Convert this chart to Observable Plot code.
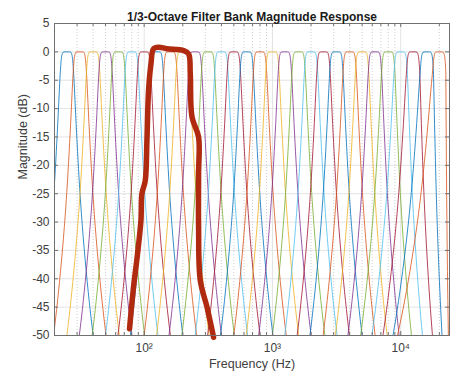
<!DOCTYPE html>
<html><head><meta charset="utf-8">
<script src="https://cdn.jsdelivr.net/npm/d3@7"></script>
<script src="https://cdn.jsdelivr.net/npm/@observablehq/plot@0.6"></script>
<style>body{margin:0;background:#fff;}</style>
</head><body><div id="chart"></div>
<script>
// 1/3-octave band centre frequencies (Hz)
const bandCenters = [25,31.5,40,50,63,80,100,125,160,200,250,315,400,500,630,800,1000,1250,1600,2000,2500,3150,4000,5000,6300,8000,10000,12500,16000,20000];
// shared band shape: offset from centre (octaves) -> magnitude (dB)
const profileOffset = [0,0.05,0.1,0.125,0.15,0.175,0.2,0.225,0.25,0.3,0.35,0.4,0.5,0.6,0.7,0.8,0.9];
const profileDb     = [0,0,-0.07,-0.41,-1.54,-3.95,-7.27,-10.9,-14.3,-20.6,-26.1,-30.8,-38.7,-45.4,-51.1,-56.2,-60.7];
// skirt width factors per band (high bands are squeezed toward Nyquist)
const skirtLeft  = [1,1,1,1,1,1,1,1,1,1,1,1,1,1,1,1,1,1,1,1.004,1.006,1.01,1.017,1.027,1.045,1.071,1.129,1.201,1.387,1.789];
const skirtRight = [1,1,1,1,1,1,1,1,1,1,1,1,1,1,1,1,1,1,1,0.99,0.985,0.975,0.96,0.94,0.895,0.846,0.773,0.649,0.44,0.131];
const lineColors = ["#0072BD","#D95319","#EDB120","#7E2F8E","#77AC30","#4DBEEE","#A2142F"];
// hand-drawn red outline
const redFreq = [76.9,82.6,88.8,94.4,96.1,102,105.1,108.2,113,118.4,129.5,150.6,202.9,222,228.8,236,265.6,265.6,265.6,273.8,309,347.6];
const redDb   = [-48.8,-41.5,-35.6,-29.7,-25.0,-22.7,-15.6,-6.8,-2.1,0.54,0.82,0.54,0.24,-0.34,-3.87,-11.5,-15.0,-21.5,-30.9,-40.3,-45.0,-50.3];
// axes
const yTicks = [-50,-45,-40,-35,-30,-25,-20,-15,-10,-5,0,5];
const xTicks = [100,1000,10000];
const xTickLabels = ["10²","10³","10⁴"];
const xMinorTicks = [20,30,40,50,60,70,80,90,200,300,400,500,600,700,800,900,2000,3000,4000,5000,6000,7000,8000,9000,20000];

const edge = 1/6;
const sq = (o, s) => o <= edge ? o : edge + (o - edge) * s;
const bandData = [];
bandCenters.forEach((fc, i) => {
  for (let j = profileOffset.length - 1; j >= 1; j--)
    bandData.push({band: i, f: fc * Math.pow(2, -sq(profileOffset[j], skirtLeft[i])), db: profileDb[j]});
  bandData.push({band: i, f: fc, db: profileDb[0]});
  for (let j = 1; j < profileOffset.length; j++)
    bandData.push({band: i, f: fc * Math.pow(2, sq(profileOffset[j], skirtRight[i])), db: profileDb[j]});
});
const redData = redFreq.map((f, i) => ({f, db: redDb[i]}));

const W = 474, H = 375, mL = 54, mR = 25, mT = 23, mB = 40;
const pw = W - mL - mR, ph = H - mT - mB;
const axisCol = "#707070", textCol = "#404040";

const chart = Plot.plot({
  width: W, height: H,
  marginLeft: mL, marginRight: mR, marginTop: mT, marginBottom: mB,
  style: {fontFamily: "Liberation Sans, Arial, sans-serif", fontSize: "12px", background: "#fff"},
  x: {type: "log", domain: [20, 24000], label: null},
  y: {domain: [-50, 5], label: null},
  color: {type: "ordinal", domain: d3.range(7), range: lineColors},
  marks: [
    Plot.ruleY(yTicks, {stroke: "#e3e3e3"}),
    Plot.ruleX(xMinorTicks, {stroke: "#cfcfcf", strokeDasharray: "1,2"}),
    Plot.ruleX(xTicks, {stroke: "#e3e3e3"}),
    Plot.line(bandData, {x: "f", y: "db", z: "band", stroke: d => d.band % 7, strokeWidth: 1, strokeOpacity: 0.8, curve: "monotone-x", clip: true}),
    Plot.line(redData, {x: "f", y: "db", stroke: "#b02a10", strokeWidth: 5.5, strokeLinecap: "round", strokeLinejoin: "round", curve: "catmull-rom"}),
    Plot.frame({stroke: axisCol}),
    Plot.ruleX(xMinorTicks, {insetTop: ph - 3, stroke: axisCol}),
    Plot.ruleX(xMinorTicks, {insetBottom: ph - 3, stroke: axisCol}),
    Plot.ruleX(xTicks, {insetTop: ph - 4, stroke: axisCol}),
    Plot.ruleX(xTicks, {insetBottom: ph - 4, stroke: axisCol}),
    Plot.ruleY(yTicks, {insetRight: pw - 4, stroke: axisCol}),
    Plot.ruleY(yTicks, {insetLeft: pw - 4, stroke: axisCol}),
    Plot.axisY({ticks: yTicks, label: null, tickSize: 0, tickPadding: 5, tickFormat: d => String(d), fill: textCol, fontSize: 12}),
    Plot.axisX({ticks: xTicks, label: null, tickSize: 0, tickPadding: 8, tickFormat: d => xTickLabels[xTicks.indexOf(d)], fill: textCol, fontSize: 12}),
    Plot.text(["1/3-Octave Filter Bank Magnitude Response"], {frameAnchor: "top", dy: -11, fontWeight: "bold", fontSize: 12, fill: "#1a1a1a"}),
    Plot.text(["Frequency (Hz)"], {frameAnchor: "bottom", dy: 32, fontSize: 12.5, fill: textCol}),
    Plot.text(["Magnitude (dB)"], {frameAnchor: "left", dx: -32, rotate: -90, fontSize: 12.5, fill: textCol})
  ]
});
document.getElementById("chart").appendChild(chart);
</script>
</body></html>
